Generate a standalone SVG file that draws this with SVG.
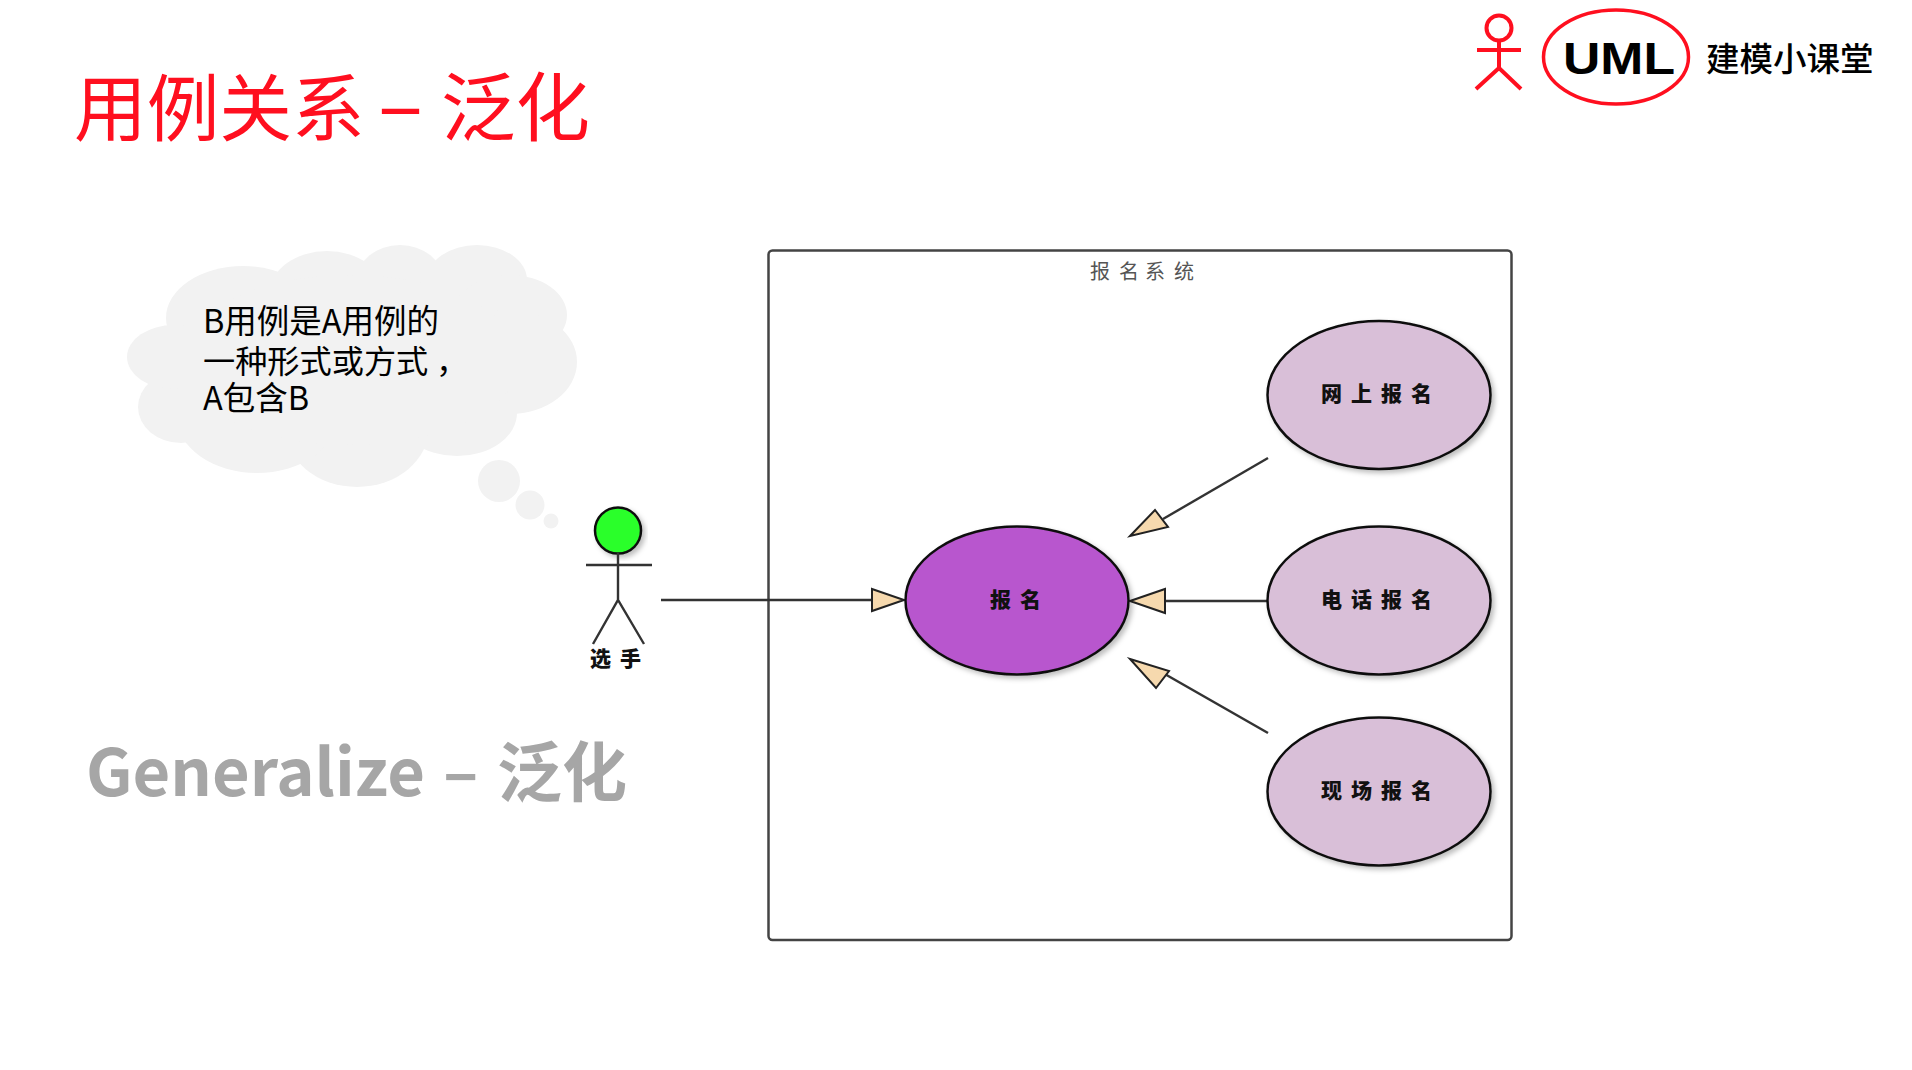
<svg xmlns="http://www.w3.org/2000/svg" width="1912" height="1070" viewBox="0 0 1912 1070">
<style>
text{font-family:"Noto Sans CJK SC","Liberation Sans",sans-serif}
.cl{fill:#f2f2f2}
.uc{stroke:#111;stroke-width:2.5}
.lb{font-size:21px;font-weight:900;fill:#111;letter-spacing:9px}
.ln{stroke:#333;stroke-width:2.4;fill:none}
.ah{fill:#f6d9ae;stroke:#222;stroke-width:2;stroke-linejoin:miter}
.lg{stroke:#ff0f1f;fill:none;stroke-width:4}
.nt{font-size:32.500px;fill:#000;font-weight:400}
</style>
<defs><filter id="sh" x="-10%" y="-10%" width="125%" height="125%"><feDropShadow dx="3" dy="3" stdDeviation="2.5" flood-color="#000" flood-opacity=".25"/></filter></defs>
<rect width="1912" height="1070" fill="#fff"/>
<text id="title" y="135" font-size="72.700" fill="#ff0f1f" font-weight="400"><tspan x="74">用例关系</tspan><tspan x="378" font-size="84">–</tspan><tspan x="441" font-size="74.500">泛化</tspan></text>
<g id="logo">
<circle class="lg" cx="1499" cy="28" r="12.5"/>
<path class="lg" d="M1499 41V68M1477 50H1521M1476 89L1499 68L1521 89"/>
<ellipse class="lg" style="stroke-width:3.5" cx="1616" cy="57" rx="72.500" ry="47"/>
<text x="1563" y="74" font-size="44" font-weight="700" textLength="112" lengthAdjust="spacingAndGlyphs" style="font-family:'Liberation Sans',sans-serif">UML</text>
<text x="1706" y="71" font-size="33.500" font-weight="500">建模小课堂</text>
</g>
<g id="thought-cloud">
<ellipse class="cl" cx="243" cy="318" rx="77" ry="52"/><ellipse class="cl" cx="327" cy="293" rx="57" ry="42"/><ellipse class="cl" cx="400" cy="280" rx="43" ry="35"/><ellipse class="cl" cx="477" cy="280" rx="50" ry="35"/><ellipse class="cl" cx="510" cy="315" rx="57" ry="40"/><ellipse class="cl" cx="510" cy="362" rx="67" ry="52"/><ellipse class="cl" cx="457" cy="413" rx="60" ry="43"/><ellipse class="cl" cx="357" cy="427" rx="72" ry="60"/><ellipse class="cl" cx="257" cy="417" rx="80" ry="56"/><ellipse class="cl" cx="181" cy="407" rx="43" ry="36"/><ellipse class="cl" cx="174" cy="357" rx="47" ry="32"/><ellipse class="cl" cx="350" cy="360" rx="170" ry="85"/>
<circle class="cl" cx="499" cy="481" r="21"/><circle class="cl" cx="530" cy="505" r="14.5"/><circle class="cl" cx="551" cy="521" r="7.5"/>
<text class="nt" x="203" y="333">B用例是A用例的</text><text class="nt" x="203" y="373" style="font-size:32.200px">一种形式或方式<tspan x="436">，</tspan></text><text class="nt" x="203" y="410">A包含B</text>
</g>
<text id="subtitle" y="796" font-size="65" font-weight="700" fill="#a6a6a6"><tspan x="86">Generalize</tspan><tspan x="443">–</tspan><tspan x="497">泛化</tspan></text>
<g id="system">
<rect x="768.500" y="250.500" width="743" height="689.500" rx="4" fill="#fff" stroke="#444" stroke-width="2.500"/>
<text x="1090" y="279" font-size="20" fill="#555"><tspan x="1090">报</tspan><tspan x="1119">名</tspan><tspan x="1145">系</tspan><tspan x="1174">统</tspan></text>
</g>
<g id="connectors">
<path class="ln" d="M661 600H873"/><polygon class="ah" points="872,589 904,600 872,611"/>
<path class="ln" d="M1268 601H1164"/><polygon class="ah" points="1130,601 1165,589 1165,613"/>
<path class="ln" d="M1268 458L1163 519"/><polygon class="ah" points="1130,536 1155,510 1168,527"/>
<path class="ln" d="M1268 733L1163 673"/><polygon class="ah" points="1130,659 1169,671 1156,688"/>
</g>
<g id="actor">
<circle cx="618" cy="530.500" r="23" fill="#2bff2b" stroke="#111" stroke-width="2.500" filter="url(#sh)"/>
<path class="ln" d="M618 553V600M586 565H652M593 644L618 600L644 644"/>
<text class="lb" x="590" y="666">选手</text>
</g>
<g id="uc-main"><ellipse class="uc" fill="#b857ce" filter="url(#sh)" cx="1017" cy="600.500" rx="111.500" ry="74"/><text class="lb" x="990" y="607">报名</text></g>
<g id="uc-online"><ellipse class="uc" fill="#d9bfd8" filter="url(#sh)" cx="1379" cy="395" rx="111.500" ry="74"/><text class="lb" x="1321" y="401">网上报名</text></g>
<g id="uc-phone"><ellipse class="uc" fill="#d9bfd8" filter="url(#sh)" cx="1379" cy="600.500" rx="111.500" ry="74"/><text class="lb" x="1321" y="607">电话报名</text></g>
<g id="uc-field"><ellipse class="uc" fill="#d9bfd8" filter="url(#sh)" cx="1379" cy="791.500" rx="111.500" ry="74"/><text class="lb" x="1321" y="798">现场报名</text></g>
</svg>
